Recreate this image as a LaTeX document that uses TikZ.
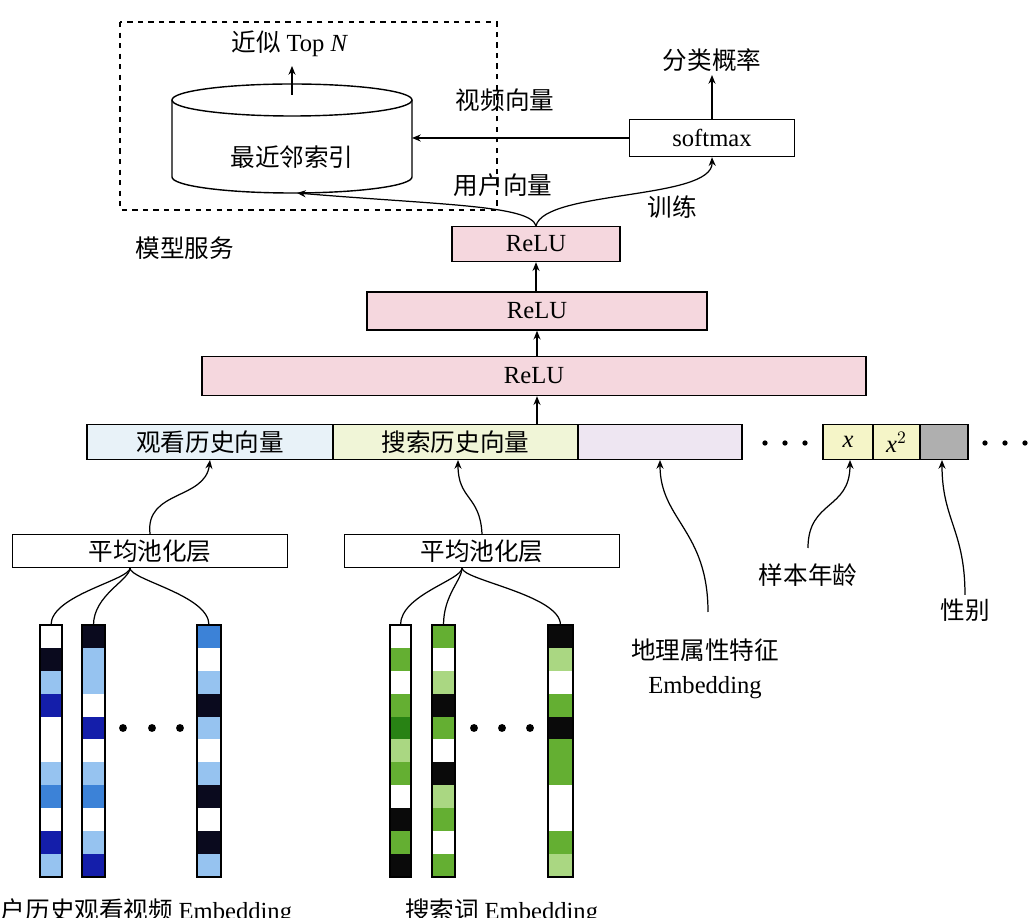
\documentclass[tikz,border=0pt]{standalone}
\usepackage{fontspec}
\setmainfont{Liberation Serif}
\newfontfamily\cjk{Noto Sans CJK SC}
\usetikzlibrary{arrows.meta}
\definecolor{bw}{RGB}{255,255,255}
\definecolor{bk}{RGB}{10,10,30}
\definecolor{bl}{RGB}{150,195,240}
\definecolor{bm}{RGB}{60,130,215}
\definecolor{bd}{RGB}{20,30,170}
\definecolor{gk}{RGB}{10,10,10}
\definecolor{gl}{RGB}{170,215,130}
\definecolor{gm}{RGB}{100,175,50}
\definecolor{gd}{RGB}{40,130,20}
\definecolor{relu}{RGB}{245,215,222}
\definecolor{fa}{RGB}{232,242,248}
\definecolor{fb}{RGB}{240,245,215}
\definecolor{fc}{RGB}{238,230,242}
\definecolor{fx}{RGB}{245,245,200}
\definecolor{fg}{RGB}{175,175,175}
\tikzset{
  x=0.02cm, y=-0.02cm,
  every node/.style={font=\fontsize{14}{16}\selectfont\cjk, inner sep=0pt},
  rm/.style={font=\fontsize{14}{16}\selectfont\rmfamily},
  box/.style={draw, line width=0.8pt, minimum height=0.7cm},
  arr/.style={-{Stealth[length=5pt,width=4pt]}, line width=0.7pt},
  ln/.style={line width=0.7pt},
  dot/.style={circle, fill=black, minimum size=4.5pt},
  sdot/.style={circle, fill=black, minimum size=3pt},
}
\begin{document}
\begin{tikzpicture}
\useasboundingbox (0,0) rectangle (1029,918);
% dashed box
\draw[dashed, line width=0.8pt] (120,22) rectangle (497,210);
% cylinder
\draw[line width=0.8pt, fill=white] (172,100) -- (172,177) arc[start angle=180,end angle=0,x radius=120,y radius=16] -- (412,100);
\draw[line width=0.8pt] (292,100) ellipse[x radius=120, y radius=16];
\coordinate (cylbot) at (297,193);
\coordinate (cylright) at (412,138);
\coordinate (cyltop) at (292,95);
\coordinate (topn) at (292,66);
\node (cyltext) at (292,157) {最近邻索引};
\draw[arr] (cyltop) -- (topn);
\node (topntext) at (290,44) {近似 {\rmfamily Top \textit{N}}};
\node (vv) at (505,100) {视频向量};
\node (uv) at (503,185) {用户向量};
\node (train) at (672,207) {训练};
\node (serve) at (185,248) {模型服务};
% softmax
\node[box, rm, minimum width=3.3cm, minimum height=0.74cm] (soft) at (712,138) {softmax};
\coordinate (probc) at (712,75);
\node (prob) at (712,60) {分类概率};
\draw[arr] (soft.north) -- (probc);
\draw[arr] (soft.west) -- (cylright);
% ReLU
\node[box, rm, fill=relu, minimum width=3.36cm] (r1) at (536,244) {ReLU};
\node[box, rm, fill=relu, minimum width=6.8cm, minimum height=0.76cm] (r2) at (537,311) {ReLU};
\node[box, rm, fill=relu, minimum width=13.28cm, minimum height=0.78cm] (r3) at (534,376) {ReLU};
\draw[arr] (r1.north) .. controls (530,205) and (440,205) .. (cylbot);
\draw[arr] (r1.north) .. controls (545,190) and (713,200) .. (soft.south);
\draw[arr] (r2.north -| r1.south) -- (r1.south);
\draw[arr] (r3.north -| r2.south) -- (r2.south);
% features
\node[box, fill=fa, minimum width=4.92cm] (fa) at (210,442) {观看历史向量};
\node[box, fill=fb, minimum width=4.9cm] (fb) at (455.5,442) {搜索历史向量};
\node[box, fill=fc, minimum width=3.28cm] (fc) at (660,442) {};
\draw[arr] (537,425) -- (r3.south -| 537,0);
\foreach \xx [count=\k] in {765,785,805} \node[sdot] (da\k) at (\xx,443) {};
\foreach \xx [count=\k] in {985,1005,1025} \node[sdot] (db\k) at (\xx,443) {};
\node[box, rm, fill=fx, minimum width=1cm] (fxa) at (848,442) {\textit{x}};
\node[box, rm, fill=fx, minimum width=0.94cm] (fxb) at (896.5,442) {\textit{x}$^2$};
\node[box, fill=fg, minimum width=0.96cm] (fgd) at (944,442) {};
% pooling
\node[box, minimum width=5.5cm, minimum height=0.66cm] (p1) at (150,551) {平均池化层};
\node[box, minimum width=5.5cm, minimum height=0.66cm] (p2) at (482,551) {平均池化层};
\draw[arr] (p1.north) .. controls (145,490) and (205,500) .. (210,460);
\draw[arr] (p2.north) .. controls (480,495) and (458,500) .. (458,460);
\coordinate (geo) at (708,612);
\coordinate (age) at (808,548);
\coordinate (sex) at (965,595);
\draw[arr] (geo) .. controls (708,530) and (660,520) .. (660,460);
\draw[arr] (age) .. controls (808,500) and (850,510) .. (850,460);
\draw[arr] (sex) .. controls (965,530) and (942,520) .. (942,460);
\node (geot1) at (705,650) {地理属性特征};
\node[rm] (geot2) at (705,688) {Embedding};
\node (aget) at (808,575) {样本年龄};
\node (sext) at (965,610) {性别};
% embedding columns
\def\seglen{22.9}
\newcommand\embcol[4]{% x1, x2, name, colors
  \foreach \c [count=\i from 0] in {#4} {
    \fill[\c] (#1,{625+\i*\seglen}) rectangle (#2,{625+(\i+1)*\seglen});
  }
  \draw[line width=0.9pt] (#1,625) rectangle (#2,877);
  \coordinate (#3) at ({(#1+#2)/2},625);
}
\embcol{40}{62}{b1}{bw,bk,bl,bd,bw,bw,bl,bm,bw,bd,bl}
\embcol{82}{105}{b2}{bk,bl,bl,bw,bd,bw,bl,bm,bw,bl,bd}
\embcol{197}{221}{b3}{bm,bw,bl,bk,bl,bw,bl,bk,bw,bk,bl}
\embcol{390}{411}{g1}{bw,gm,bw,gm,gd,gl,gm,bw,gk,gm,gk}
\embcol{432}{455}{g2}{gm,bw,gl,gk,gm,bw,gk,gl,gm,bw,gm}
\embcol{548}{573}{g3}{gk,gl,bw,gm,gk,gm,gm,bw,bw,gm,gl}
\foreach \xx [count=\k] in {123,152,180} \node[dot] (dc\k) at (\xx,728) {};
\foreach \xx [count=\k] in {474,502,530} \node[dot] (dg\k) at (\xx,728) {};
\coordinate (p1b) at (130,568);
\coordinate (p2b) at (462,568);
\foreach \t in {b1,b2,b3} \draw[ln] (p1b) .. controls (130,580) and (\t |- 0,595) .. (\t);
\foreach \t in {g1,g2,g3} \draw[ln] (p2b) .. controls (462,580) and (\t |- 0,595) .. (\t);
\node[anchor=west] (lb1) at (-24,912) {用户历史观看视频 {\rmfamily Embedding}};
\node[anchor=west] (lb2) at (405,912) {搜索词 {\rmfamily Embedding}};
\end{tikzpicture}
\end{document}
